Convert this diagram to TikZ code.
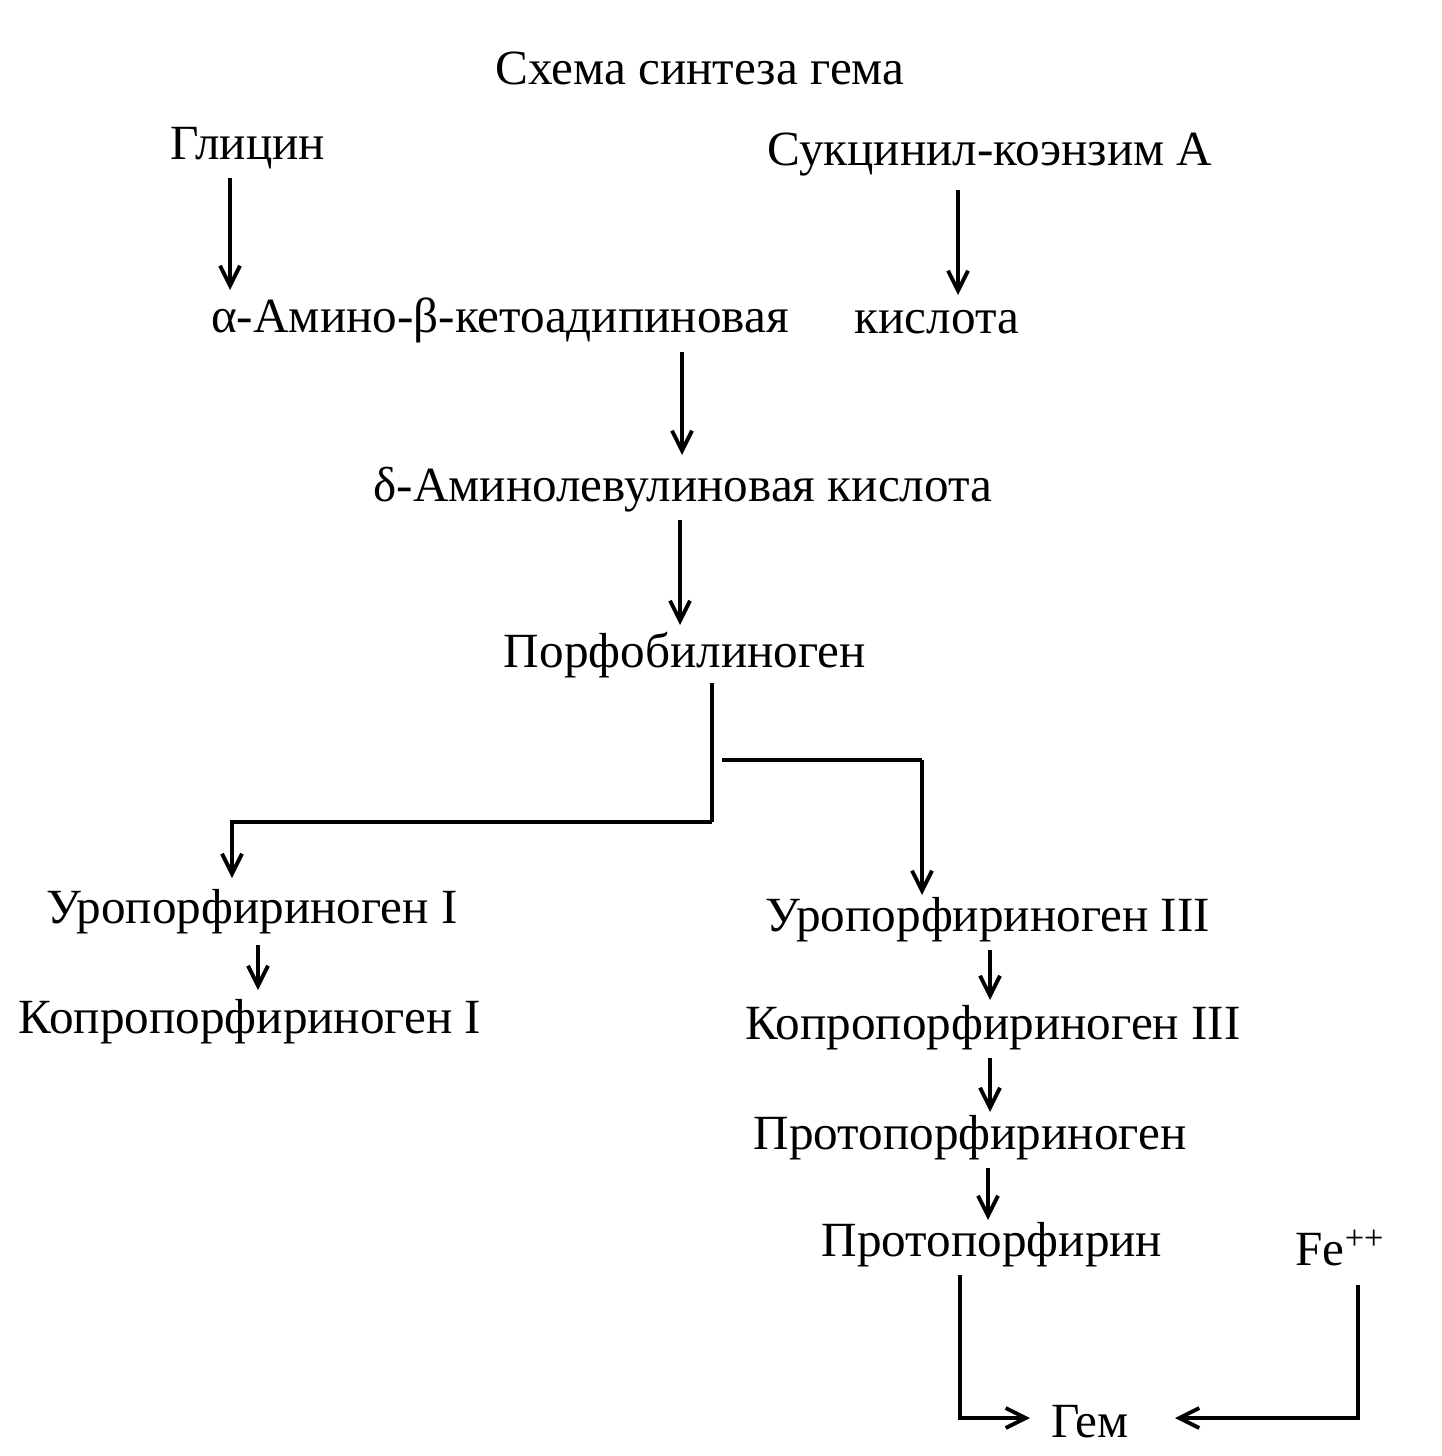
\documentclass[tikz,border=0pt]{standalone}
\usepackage{fontspec}
\setmainfont{Liberation Serif}
\usetikzlibrary{arrows.meta}
\begin{document}
\begin{tikzpicture}[x=0.02cm,y=-0.02cm]
% node style definition
\tikzstyle{item} = [draw=none, fill=none, inner sep=0pt,
	font=\fontsize{28}{34}\selectfont];
\tikzstyle{flow} = [line width=2.2pt, -{Straight Barb[length=4mm,width=4mm]}];
\tikzstyle{bar} = [line width=2.2pt];
\useasboundingbox (0,0) rectangle (1442,1456);
% labels
\node[item] (title) at (700,68) { Схема синтеза гема };
\node[item] (gly) at (248,148) { Глицин };
\node[item] (succ) at (990,155) { Сукцинил-коэнзим А };
\node[item] (amk) at (500,320) { α-Амино-β-кетоадипиновая };
\node[item] (acid) at (937,322) { кислота };
\node[item] (ala) at (683,490) { δ-Аминолевулиновая кислота };
\node[item] (pbg) at (685,655) { Порфобилиноген };
\node[item] (uro1) at (252,912) { Уропорфириноген I };
\node[item] (copro1) at (250,1022) { Копропорфириноген I };
\node[item] (uro3) at (988,920) { Уропорфириноген III };
\node[item] (copro3) at (993,1028) { Копропорфириноген III };
\node[item] (protog) at (970,1138) { Протопорфириноген };
\node[item] (proto) at (992,1245) { Протопорфирин };
\node[item] (fe) at (1340,1248) { Fe\textsuperscript{++} };
\node[item] (heme) at (1090,1422) { Гем };
% corners and ends
\coordinate (lb) at (712,822);
\coordinate (rb) at (922,760);
\coordinate (pc) at (960,1418);
\coordinate (fc) at (1358,1418);
\coordinate (hl) at (1030,1418);
\coordinate (hr) at (1175,1418);
% arrows
\draw[flow] (230,178) -- (230,290);
\draw[flow] (958,190) -- (958,295);
\draw[flow] (682,352) -- (682,455);
\draw[flow] (680,520) -- (680,625);
\draw[bar] (712,683) -- (lb);
\draw[flow] (lb) -- (232,822) -- (232,878);
\draw[bar] (722,760) -- (rb);
\draw[flow] (rb) -- (922,895);
\draw[flow] (258,945) -- (258,990);
\draw[flow] (990,950) -- (990,1000);
\draw[flow] (990,1058) -- (990,1112);
\draw[flow] (988,1168) -- (988,1220);
\draw[flow] (960,1275) -- (pc) -- (hl);
\draw[flow] (1358,1285) -- (fc) -- (hr);
\end{tikzpicture}
\end{document}
